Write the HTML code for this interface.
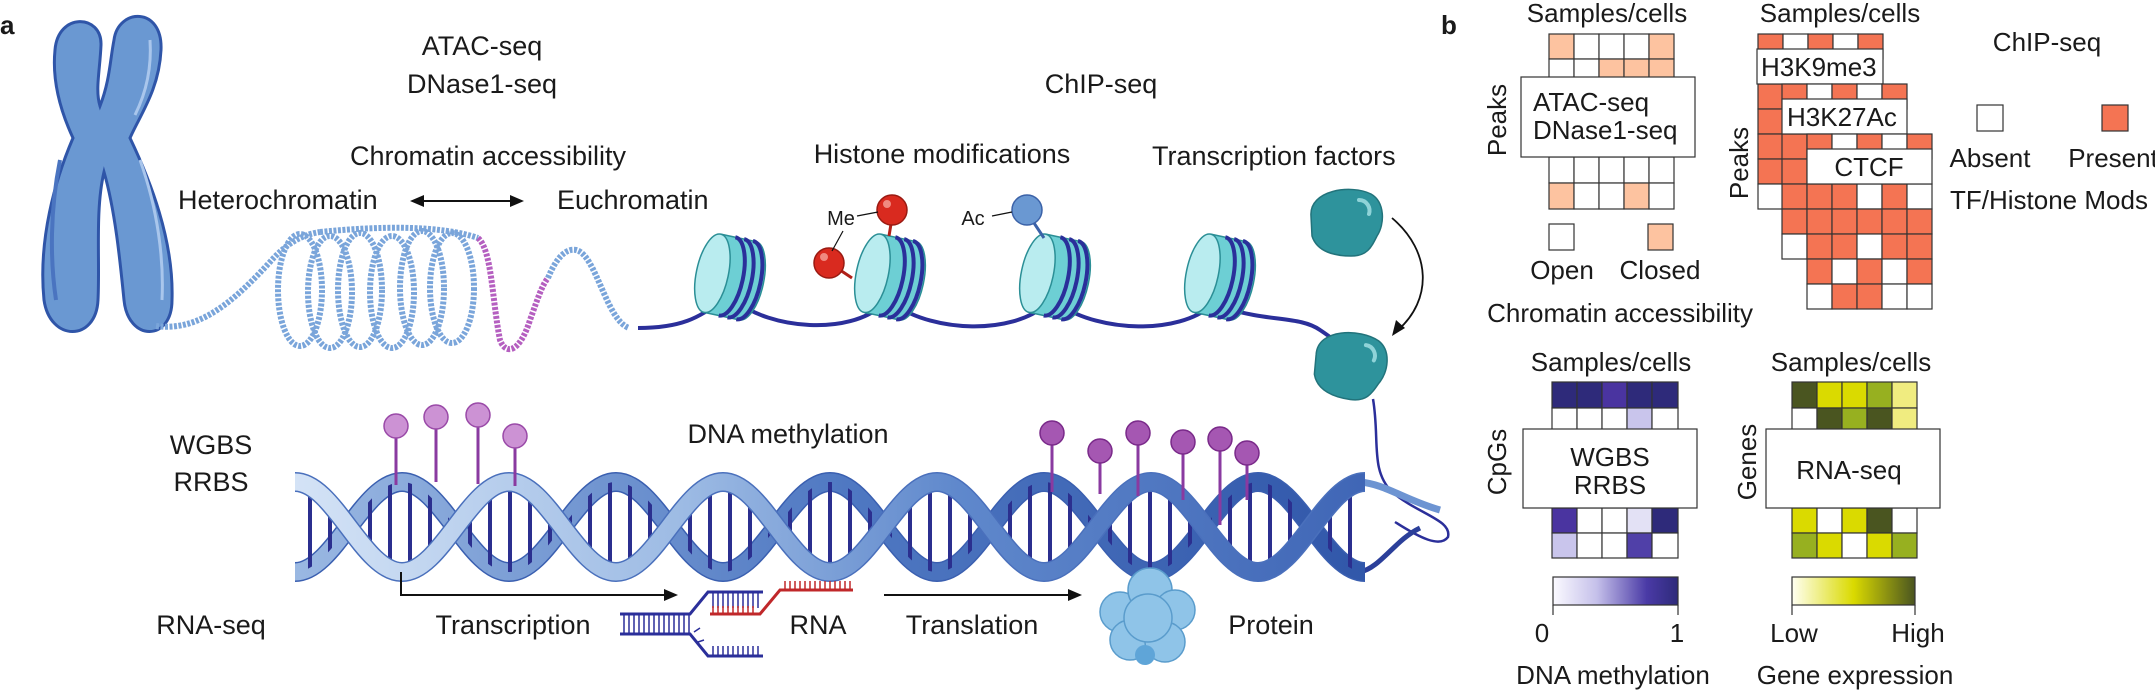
<!DOCTYPE html>
<html><head><meta charset="utf-8"><style>
html,body{margin:0;padding:0;background:#fff;}
svg{display:block;}
text{font-family:"Liberation Sans",Arial,sans-serif;fill:#1a1a1a;}
</style></head><body>
<svg width="2155" height="690" viewBox="0 0 2155 690" xmlns="http://www.w3.org/2000/svg">
<defs>
<linearGradient id="hx" gradientUnits="userSpaceOnUse" x1="295" y1="0" x2="1400" y2="0">
<stop offset="0" stop-color="#d4e3f6"/><stop offset="0.35" stop-color="#9dbbe4"/><stop offset="0.6" stop-color="#5f88cc"/><stop offset="1" stop-color="#3d63b4"/></linearGradient>
<linearGradient id="hx2" gradientUnits="userSpaceOnUse" x1="295" y1="0" x2="1400" y2="0">
<stop offset="0" stop-color="#9ab8e2"/><stop offset="0.5" stop-color="#4f78c2"/><stop offset="1" stop-color="#2f55a8"/></linearGradient>
<linearGradient id="gm" x1="0" x2="1" y1="0" y2="0"><stop offset="0" stop-color="#fbfaff"/><stop offset="0.35" stop-color="#c5c0ea"/><stop offset="0.75" stop-color="#4a3aa6"/><stop offset="1" stop-color="#2e2a7a"/></linearGradient>
<linearGradient id="ge" x1="0" x2="1" y1="0" y2="0"><stop offset="0" stop-color="#fffff2"/><stop offset="0.5" stop-color="#dada00"/><stop offset="1" stop-color="#4a5520"/></linearGradient>
<clipPath id="between"><path d="M295 482 C334 482 363 572 402 572 C441 572 470 482 509 482 C548 482 577 572 616 572 C655 572 684 482 723 482 C762 482 791 572 830 572 C869 572 898 482 937 482 C976 482 1005 572 1044 572 C1083 572 1112 482 1151 482 C1190 482 1219 572 1258 572 C1297 572 1326 482 1365 482 L1365 572 C1326 572 1297 482 1258 482 C1219 482 1190 572 1151 572 C1112 572 1083 482 1044 482 C1005 482 976 572 937 572 C898 572 869 482 830 482 C791 482 762 572 723 572 C684 572 655 482 616 482 C577 482 548 572 509 572 C470 572 441 482 402 482 C363 482 334 572 295 572 Z"/></clipPath>
<g id="nuc">
<ellipse cx="18" cy="0" rx="16" ry="40" fill="#6dcfd4" stroke="#2b8f96" stroke-width="1.5"/>
<rect x="-18" y="-40" width="36" height="80" fill="#6dcfd4"/>
<line x1="-18" y1="-40" x2="18" y2="-40" stroke="#2b8f96" stroke-width="1.5"/>
<line x1="-18" y1="40" x2="18" y2="40" stroke="#2b8f96" stroke-width="1.5"/>
<path d="M-3,-40 A16 40 0 0 1 -3,40" fill="none" stroke="#2a2f9a" stroke-width="4"/>
<path d="M6,-40 A16 40 0 0 1 6,40" fill="none" stroke="#2a2f9a" stroke-width="4"/>
<path d="M15,-40 A16 40 0 0 1 15,40" fill="none" stroke="#2a2f9a" stroke-width="4"/>
<ellipse cx="-18" cy="0" rx="16" ry="40" fill="#b9ecef" stroke="#2b8f96" stroke-width="1.5"/>
</g>
<g id="tf">
<path d="M-34,-6 C-36,-32 6,-38 26,-28 C40,-20 40,2 32,14 C26,26 22,34 6,34 C-10,34 -28,30 -33,14 Z" fill="#2e939c" stroke="#22737b" stroke-width="1.5"/>
<path d="M14,-22 C22,-22 26,-14 24,-8" fill="none" stroke="#8fd3d8" stroke-width="4" stroke-linecap="round"/>
</g>
</defs>

<text x="0" y="34" font-size="26" font-weight="bold">a</text>
<text x="1441" y="34" font-size="26" font-weight="bold">b</text>

<!-- Chromosome -->
<path d="M100,106 C110,80 110,60 114,40 C118,8 163,6 161,50 C159,90 140,115 130,138 C150,180 174,240 172,300 C172,342 128,342 124,300 C120,260 115,210 104,172 C95,210 100,260 98,300 C96,342 50,342 44,300 C38,240 55,180 73,138 C60,110 52,80 55,50 C58,12 102,14 101,45 C100,70 95,90 100,106 Z" fill="#6a98d2" stroke="#2f55a8" stroke-width="3"/>
<path d="M150,40 C152,70 145,95 135,115" fill="none" stroke="#a9c6ec" stroke-width="3"/>
<path d="M140,160 C158,210 164,260 162,300" fill="none" stroke="#a9c6ec" stroke-width="3"/>
<path d="M60,160 C50,210 50,260 56,300" fill="none" stroke="#4a74c0" stroke-width="4"/>

<!-- coil -->
<g fill="none" stroke="#7aa5da" stroke-width="6" stroke-dasharray="3 1.5">
<path d="M156,326 C200,332 235,300 270,262 C285,245 300,235 320,232"/>
<ellipse cx="300" cy="290" rx="22" ry="56"/>
<ellipse cx="330" cy="292" rx="22" ry="56"/>
<ellipse cx="360" cy="290" rx="22" ry="57"/>
<ellipse cx="392" cy="292" rx="22" ry="56"/>
<ellipse cx="422" cy="288" rx="22" ry="57"/>
<ellipse cx="452" cy="288" rx="22" ry="55"/>
<path d="M320,232 C380,226 440,225 478,238"/>
<path d="M548,278 C556,258 566,248 576,250 C596,254 606,320 629,328"/>
</g>
<path d="M478,238 C492,250 492,300 500,340 C506,356 520,352 530,320 C538,298 542,285 548,278" fill="none" stroke="#b55fc0" stroke-width="6" stroke-dasharray="3 1.5"/>

<path d="M638,328 C680,328 700,318 722,300 M735,300 C770,330 850,335 882,305 M895,305 C935,332 1010,335 1046,305 M1060,305 C1100,332 1178,335 1212,305 M1225,308 C1270,322 1300,316 1320,330 C1335,340 1340,345 1345,350" fill="none" stroke="#2b2f9a" stroke-width="4"/>

<use href="#nuc" transform="translate(730,277) rotate(12)"/>
<use href="#nuc" transform="translate(890,277) rotate(12)"/>
<use href="#nuc" transform="translate(1055,277) rotate(12)"/>
<use href="#nuc" transform="translate(1220,277) rotate(12)"/>

<line x1="891" y1="224" x2="889" y2="236" stroke="#b02018" stroke-width="3"/>
<line x1="840" y1="270" x2="852" y2="278" stroke="#b02018" stroke-width="3"/>
<circle cx="892" cy="210" r="15" fill="#d92a1f" stroke="#9a1a12" stroke-width="1.5"/>
<circle cx="829" cy="263" r="15" fill="#d92a1f" stroke="#9a1a12" stroke-width="1.5"/>
<circle cx="887" cy="204" r="4" fill="#f08a80"/><circle cx="824" cy="257" r="4" fill="#f08a80"/>
<text x="841" y="225" font-size="20" text-anchor="middle">Me</text>
<line x1="857" y1="216" x2="878" y2="212" stroke="#111" stroke-width="1.2"/>
<line x1="843" y1="231" x2="832" y2="251" stroke="#111" stroke-width="1.2"/>
<line x1="1034" y1="223" x2="1044" y2="238" stroke="#3b62a8" stroke-width="3"/>
<circle cx="1027" cy="210" r="15" fill="#6a98d2" stroke="#3b62a8" stroke-width="1.5"/>
<text x="973" y="225" font-size="20" text-anchor="middle">Ac</text>
<line x1="992" y1="216" x2="1012" y2="212" stroke="#111" stroke-width="1.2"/>

<use href="#tf" transform="translate(1345,222)"/>
<use href="#tf" transform="translate(1349,365) rotate(8)"/>
<path d="M1392,218 C1432,252 1432,300 1398,330" fill="none" stroke="#111" stroke-width="1.8"/>
<path d="M1392,336 L1396,320 L1405,328 Z" fill="#111"/>
<path d="M1373,399 C1380,440 1370,470 1392,492 C1420,515 1452,520 1448,537 C1440,548 1420,538 1395,522" fill="none" stroke="#2b2f9a" stroke-width="2.5"/>

<!-- helix -->
<path d="M1360,572 C1380,568 1395,540 1420,528" fill="none" stroke="#2b3f9a" stroke-width="5"/>
<path d="M1360,482 C1385,484 1405,500 1440,510" fill="none" stroke="#6d94d2" stroke-width="7"/>
<path d="M295 572 C334 572 363 482 402 482 C441 482 470 572 509 572 C548 572 577 482 616 482 C655 482 684 572 723 572 C762 572 791 482 830 482 C869 482 898 572 937 572 C976 572 1005 482 1044 482 C1083 482 1112 572 1151 572 C1190 572 1219 482 1258 482 C1297 482 1326 572 1365 572" fill="none" stroke="#3a5fb0" stroke-width="20"/>
<path d="M295 572 C334 572 363 482 402 482 C441 482 470 572 509 572 C548 572 577 482 616 482 C655 482 684 572 723 572 C762 572 791 482 830 482 C869 482 898 572 937 572 C976 572 1005 482 1044 482 C1083 482 1112 572 1151 572 C1190 572 1219 482 1258 482 C1297 482 1326 572 1365 572" fill="none" stroke="url(#hx2)" stroke-width="17"/>
<g clip-path="url(#between)" stroke="#2b2f8f" stroke-width="4">
<path d="M310 470V585M330 470V585M350 470V585M370 470V585M390 470V585M410 470V585M430 470V585M450 470V585M470 470V585M490 470V585M510 470V585M530 470V585M550 470V585M570 470V585M590 470V585M610 470V585M630 470V585M650 470V585M670 470V585M690 470V585M710 470V585M730 470V585M750 470V585M770 470V585M790 470V585M810 470V585M830 470V585M850 470V585M870 470V585M890 470V585M910 470V585M930 470V585M950 470V585M970 470V585M990 470V585M1010 470V585M1030 470V585M1050 470V585M1070 470V585M1090 470V585M1110 470V585M1130 470V585M1150 470V585M1170 470V585M1190 470V585M1210 470V585M1230 470V585M1250 470V585M1270 470V585M1290 470V585M1310 470V585M1330 470V585M1350 470V585"/>
</g>
<path d="M295 482 C334 482 363 572 402 572 C441 572 470 482 509 482 C548 482 577 572 616 572 C655 572 684 482 723 482 C762 482 791 572 830 572 C869 572 898 482 937 482 C976 482 1005 572 1044 572 C1083 572 1112 482 1151 482 C1190 482 1219 572 1258 572 C1297 572 1326 482 1365 482" fill="none" stroke="#4a70bc" stroke-width="20"/>
<path d="M295 482 C334 482 363 572 402 572 C441 572 470 482 509 482 C548 482 577 572 616 572 C655 572 684 482 723 482 C762 482 791 572 830 572 C869 572 898 482 937 482 C976 482 1005 572 1044 572 C1083 572 1112 482 1151 482 C1190 482 1219 572 1258 572 C1297 572 1326 482 1365 482" fill="none" stroke="url(#hx)" stroke-width="17"/>

<g stroke="#8a3aa0" stroke-width="3">
<line x1="396" y1="430" x2="396" y2="485"/><line x1="436" y1="420" x2="436" y2="482"/><line x1="478" y1="418" x2="478" y2="484"/><line x1="515" y1="440" x2="515" y2="486"/>
<line x1="1052" y1="436" x2="1052" y2="492"/><line x1="1100" y1="455" x2="1100" y2="494"/><line x1="1138" y1="436" x2="1138" y2="496"/><line x1="1183" y1="446" x2="1183" y2="500"/><line x1="1220" y1="442" x2="1220" y2="525"/><line x1="1247" y1="456" x2="1247" y2="500"/>
</g>
<g fill="#cc92d4" stroke="#9a4aa8" stroke-width="1.5">
<circle cx="396" cy="426" r="12"/><circle cx="436" cy="417" r="12"/><circle cx="478" cy="415" r="12"/><circle cx="515" cy="436" r="12"/></g>
<g fill="#a557b2" stroke="#7a2a8a" stroke-width="1.5">
<circle cx="1052" cy="433" r="12"/><circle cx="1100" cy="451" r="12"/><circle cx="1138" cy="433" r="12"/><circle cx="1183" cy="442" r="12"/><circle cx="1220" cy="439" r="12"/><circle cx="1247" cy="453" r="12"/></g>

<path d="M401,572 V595 H670" fill="none" stroke="#111" stroke-width="2"/>
<path d="M678,595 L664,589 L664,601 Z" fill="#111"/>
<path d="M884,595 H1072" stroke="#111" stroke-width="2"/>
<path d="M1082,595 L1068,589 L1068,601 Z" fill="#111"/>

<g fill="none" stroke-width="3">
<path d="M620,614 H690 L708,592 H763" stroke="#2b2f9a"/>
<path d="M620,634 H690 L708,656 H763" stroke="#2b2f9a"/>
<path d="M710,614 H760 L780,590 H853" stroke="#c0282a"/>
</g>
<g stroke="#2b2f9a" stroke-width="1.5">
<path d="M624 614V634M629 614V634M634 614V634M639 614V634M644 614V634M649 614V634M654 614V634M659 614V634M664 614V634M669 614V634M674 614V634M679 614V634M684 614V634M689 614V634"/>
<path d="M713 592V608M718 592V608M723 592V608M728 592V608M733 592V608M738 592V608M743 592V608M748 592V608M753 592V608M758 592V608"/>
<path d="M713 656V646M718 656V646M723 656V646M728 656V646M733 656V646M738 656V646M743 656V646M748 656V646M753 656V646M758 656V646M700 628L694 632M704 640L698 642"/>
</g>
<g stroke="#c0282a" stroke-width="1.5">
<path d="M713 614V606M718 614V606M723 614V606M728 614V606M733 614V606M738 614V606M743 614V606M748 614V606M753 614V606M785 590V581M790 590V581M795 590V581M800 590V581M805 590V581M810 590V581M815 590V581M820 590V581M825 590V581M830 590V581M835 590V581M840 590V581M845 590V581M850 590V581"/>
</g>

<g fill="#8fc4e8" stroke="#5a9ccc" stroke-width="1.5">
<circle cx="1120" cy="612" r="20"/><circle cx="1150" cy="590" r="22"/><circle cx="1175" cy="610" r="20"/><circle cx="1130" cy="640" r="20"/><circle cx="1165" cy="642" r="20"/><circle cx="1148" cy="618" r="24"/>
</g>
<circle cx="1145" cy="655" r="10" fill="#5fa5d8"/>

<g font-size="27" text-anchor="middle" dominant-baseline="central">
<text x="482" y="46">ATAC-seq</text>
<text x="482" y="84">DNase1-seq</text>
<text x="488" y="156">Chromatin accessibility</text>
<text x="178" y="200" text-anchor="start">Heterochromatin</text>
<text x="557" y="200" text-anchor="start">Euchromatin</text>
<text x="1101" y="84">ChIP-seq</text>
<text x="942" y="154">Histone modifications</text>
<text x="1152" y="156" text-anchor="start">Transcription factors</text>
<text x="211" y="445">WGBS</text>
<text x="211" y="482">RRBS</text>
<text x="788" y="434">DNA methylation</text>
<text x="211" y="625">RNA-seq</text>
<text x="513" y="625">Transcription</text>
<text x="818" y="625">RNA</text>
<text x="972" y="625">Translation</text>
<text x="1271" y="625">Protein</text>
</g>
<path d="M418,201 H516" stroke="#111" stroke-width="2"/>
<path d="M410,201 L424,195 L424,207 Z M524,201 L510,195 L510,207 Z" fill="#111"/>

<!-- ===== Panel b ===== -->
<g stroke="#333" stroke-width="1.2">
<rect x="1549" y="34" width="25" height="25" fill="#fdc3a0"/><rect x="1574" y="34" width="25" height="25" fill="#fff"/><rect x="1599" y="34" width="25" height="25" fill="#fff"/><rect x="1624" y="34" width="25" height="25" fill="#fff"/><rect x="1649" y="34" width="25" height="25" fill="#fdc3a0"/>
<rect x="1549" y="59" width="25" height="25" fill="#fff"/><rect x="1574" y="59" width="25" height="25" fill="#fff"/><rect x="1599" y="59" width="25" height="25" fill="#fdc3a0"/><rect x="1624" y="59" width="25" height="25" fill="#fdc3a0"/><rect x="1649" y="59" width="25" height="25" fill="#fdc3a0"/>
<rect x="1549" y="157" width="25" height="26" fill="#fff"/><rect x="1574" y="157" width="25" height="26" fill="#fff"/><rect x="1599" y="157" width="25" height="26" fill="#fff"/><rect x="1624" y="157" width="25" height="26" fill="#fff"/><rect x="1649" y="157" width="25" height="26" fill="#fff"/>
<rect x="1549" y="183" width="25" height="26" fill="#fdc3a0"/><rect x="1574" y="183" width="25" height="26" fill="#fff"/><rect x="1599" y="183" width="25" height="26" fill="#fff"/><rect x="1624" y="183" width="25" height="26" fill="#fdc3a0"/><rect x="1649" y="183" width="25" height="26" fill="#fff"/>
<rect x="1521" y="77" width="174" height="80" fill="#fff"/>
<rect x="1549" y="224" width="25" height="26" fill="#fff"/><rect x="1648" y="224" width="25" height="26" fill="#fdc3a0"/>

<rect x="1758" y="34" width="25" height="25" fill="#f47453"/><rect x="1783" y="34" width="25" height="25" fill="#fff"/><rect x="1808" y="34" width="25" height="25" fill="#f47453"/><rect x="1833" y="34" width="25" height="25" fill="#fff"/><rect x="1858" y="34" width="25" height="25" fill="#f47453"/>
<rect x="1758" y="84" width="25" height="25" fill="#f47453"/><rect x="1758" y="109" width="25" height="25" fill="#f47453"/><rect x="1758" y="134" width="25" height="25" fill="#f47453"/><rect x="1758" y="159" width="25" height="25" fill="#f47453"/><rect x="1758" y="184" width="25" height="25" fill="#fff"/>
<rect x="1757" y="49" width="126" height="35" fill="#fff"/>
<rect x="1782" y="84" width="25" height="25" fill="#f47453"/><rect x="1807" y="84" width="25" height="25" fill="#fff"/><rect x="1832" y="84" width="25" height="25" fill="#f47453"/><rect x="1857" y="84" width="25" height="25" fill="#fff"/><rect x="1882" y="84" width="25" height="25" fill="#f47453"/>
<rect x="1782" y="134" width="25" height="25" fill="#f47453"/><rect x="1782" y="159" width="25" height="25" fill="#f47453"/><rect x="1782" y="184" width="25" height="25" fill="#f47453"/><rect x="1782" y="209" width="25" height="25" fill="#f47453"/><rect x="1782" y="234" width="25" height="25" fill="#fff"/>
<rect x="1782" y="99" width="125" height="35" fill="#fff"/>
<rect x="1807" y="134" width="25" height="25" fill="#f47453"/><rect x="1832" y="134" width="25" height="25" fill="#fff"/><rect x="1857" y="134" width="25" height="25" fill="#f47453"/><rect x="1882" y="134" width="25" height="25" fill="#fff"/><rect x="1907" y="134" width="25" height="25" fill="#f47453"/>
<rect x="1807" y="184" width="25" height="25" fill="#f47453"/><rect x="1832" y="184" width="25" height="25" fill="#f47453"/><rect x="1857" y="184" width="25" height="25" fill="#fff"/><rect x="1882" y="184" width="25" height="25" fill="#f47453"/><rect x="1907" y="184" width="25" height="25" fill="#fff"/>
<rect x="1807" y="209" width="25" height="25" fill="#f47453"/><rect x="1832" y="209" width="25" height="25" fill="#f47453"/><rect x="1857" y="209" width="25" height="25" fill="#f47453"/><rect x="1882" y="209" width="25" height="25" fill="#f47453"/><rect x="1907" y="209" width="25" height="25" fill="#f47453"/>
<rect x="1807" y="234" width="25" height="25" fill="#f47453"/><rect x="1832" y="234" width="25" height="25" fill="#f47453"/><rect x="1857" y="234" width="25" height="25" fill="#fff"/><rect x="1882" y="234" width="25" height="25" fill="#f47453"/><rect x="1907" y="234" width="25" height="25" fill="#f47453"/>
<rect x="1807" y="259" width="25" height="25" fill="#f47453"/><rect x="1832" y="259" width="25" height="25" fill="#fff"/><rect x="1857" y="259" width="25" height="25" fill="#f47453"/><rect x="1882" y="259" width="25" height="25" fill="#fff"/><rect x="1907" y="259" width="25" height="25" fill="#f47453"/>
<rect x="1807" y="284" width="25" height="25" fill="#fff"/><rect x="1832" y="284" width="25" height="25" fill="#f47453"/><rect x="1857" y="284" width="25" height="25" fill="#f47453"/><rect x="1882" y="284" width="25" height="25" fill="#fff"/><rect x="1907" y="284" width="25" height="25" fill="#fff"/>
<rect x="1807" y="149" width="125" height="35" fill="#fff"/>
<rect x="1977" y="105" width="26" height="26" fill="#fff"/><rect x="2102" y="105" width="26" height="26" fill="#f47453"/>

<rect x="1552" y="382" width="25" height="26" fill="#2e2a7a"/><rect x="1577" y="382" width="25" height="26" fill="#2e2a7a"/><rect x="1602" y="382" width="25" height="26" fill="#4a34a0"/><rect x="1627" y="382" width="25" height="26" fill="#2e2a7a"/><rect x="1652" y="382" width="26" height="26" fill="#2e2a7a"/>
<rect x="1552" y="408" width="25" height="25" fill="#fff"/><rect x="1577" y="408" width="25" height="25" fill="#fff"/><rect x="1602" y="408" width="25" height="25" fill="#fff"/><rect x="1627" y="408" width="25" height="25" fill="#c9c5ec"/><rect x="1652" y="408" width="26" height="25" fill="#fff"/>
<rect x="1552" y="508" width="25" height="25" fill="#4a34a0"/><rect x="1577" y="508" width="25" height="25" fill="#fff"/><rect x="1602" y="508" width="25" height="25" fill="#fff"/><rect x="1627" y="508" width="25" height="25" fill="#e3e1f5"/><rect x="1652" y="508" width="26" height="25" fill="#2e2a7a"/>
<rect x="1552" y="533" width="25" height="25" fill="#c9c5ec"/><rect x="1577" y="533" width="25" height="25" fill="#fff"/><rect x="1602" y="533" width="25" height="25" fill="#fff"/><rect x="1627" y="533" width="25" height="25" fill="#5040a8"/><rect x="1652" y="533" width="26" height="25" fill="#fff"/>
<rect x="1523" y="429" width="174" height="79" fill="#fff"/>
<rect x="1792" y="382" width="25" height="26" fill="#4a5520"/><rect x="1817" y="382" width="25" height="26" fill="#dada00"/><rect x="1842" y="382" width="25" height="26" fill="#dada00"/><rect x="1867" y="382" width="25" height="26" fill="#97b020"/><rect x="1892" y="382" width="25" height="26" fill="#f0ec80"/>
<rect x="1792" y="408" width="25" height="25" fill="#fff"/><rect x="1817" y="408" width="25" height="25" fill="#4a5520"/><rect x="1842" y="408" width="25" height="25" fill="#97b020"/><rect x="1867" y="408" width="25" height="25" fill="#4a5520"/><rect x="1892" y="408" width="25" height="25" fill="#f0ec80"/>
<rect x="1792" y="508" width="25" height="25" fill="#dada00"/><rect x="1817" y="508" width="25" height="25" fill="#fff"/><rect x="1842" y="508" width="25" height="25" fill="#dada00"/><rect x="1867" y="508" width="25" height="25" fill="#4a5520"/><rect x="1892" y="508" width="25" height="25" fill="#fff"/>
<rect x="1792" y="533" width="25" height="25" fill="#97b020"/><rect x="1817" y="533" width="25" height="25" fill="#dada00"/><rect x="1842" y="533" width="25" height="25" fill="#fff"/><rect x="1867" y="533" width="25" height="25" fill="#dada00"/><rect x="1892" y="533" width="25" height="25" fill="#97b020"/>
<rect x="1766" y="429" width="174" height="79" fill="#fff"/>
<rect x="1553" y="577" width="125" height="28" fill="url(#gm)"/>
<rect x="1792" y="577" width="123" height="28" fill="url(#ge)"/>
<path d="M1553,605 V615 M1678,605 V615 M1792,605 V615 M1915,605 V615" fill="none"/>
</g>

<g font-size="26" dominant-baseline="central" text-anchor="middle">
<text x="1607" y="13">Samples/cells</text>
<text x="1840" y="13">Samples/cells</text>
<text x="1533" y="102" text-anchor="start">ATAC-seq</text>
<text x="1533" y="130" text-anchor="start">DNase1-seq</text>
<text x="1761" y="67" text-anchor="start">H3K9me3</text>
<text x="1787" y="117" text-anchor="start">H3K27Ac</text>
<text x="1869" y="167">CTCF</text>
<text x="2047" y="42">ChIP-seq</text>
<text x="1990" y="158">Absent</text>
<text x="2113" y="158">Present</text>
<text x="1950" y="200" text-anchor="start">TF/Histone Mods</text>
<text x="1562" y="270">Open</text>
<text x="1660" y="270">Closed</text>
<text x="1753" y="313" text-anchor="end">Chromatin accessibility</text>
<text x="1611" y="362">Samples/cells</text>
<text x="1851" y="362">Samples/cells</text>
<text x="1610" y="457">WGBS</text>
<text x="1610" y="485">RRBS</text>
<text x="1849" y="470">RNA-seq</text>
<text x="1542" y="633">0</text>
<text x="1677" y="633">1</text>
<text x="1794" y="633">Low</text>
<text x="1918" y="633">High</text>
<text x="1613" y="675">DNA methylation</text>
<text x="1855" y="675">Gene expression</text>
<text transform="translate(1497,120) rotate(-90)">Peaks</text>
<text transform="translate(1739,163) rotate(-90)">Peaks</text>
<text transform="translate(1497,462) rotate(-90)">CpGs</text>
<text transform="translate(1747,462) rotate(-90)">Genes</text>
</g>
</svg>
</body></html>
